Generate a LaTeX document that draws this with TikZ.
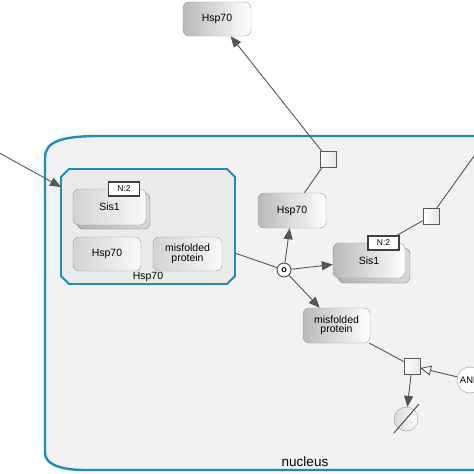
\documentclass[tikz,border=0pt]{standalone}
\usepackage{fontspec}
\setmainfont{Liberation Sans}
\usetikzlibrary{arrows.meta,calc}
\definecolor{compblue}{HTML}{1A8FBF}
\definecolor{compfill}{HTML}{F2F2F2}
\definecolor{cxfill}{HTML}{EBEBEB}
\definecolor{edgegray}{HTML}{555555}
\begin{document}
\begin{tikzpicture}[x=1pt,y=-1pt,
  epn/.style={rounded corners=6pt, draw=gray!80, left color=gray!55, right color=white,
    minimum width=68pt, minimum height=35pt, inner sep=1pt, align=center,
    font=\fontsize{10.5}{11.5}\selectfont},
  epnlight/.style={epn, left color=gray!35, right color=gray!5},
  shadowbox/.style={epn, left color=gray!60, right color=gray!30, draw=gray},
  tagbox/.style={draw=black!75, line width=1.6pt, fill=white, minimum width=31pt,
    minimum height=14pt, inner sep=0pt, font=\fontsize{8.5}{9}\selectfont},
  procsq/.style={draw=black!65, left color=white, right color=gray!20, minimum size=16pt, inner sep=0pt},
  conn/.style={draw=edgegray, line width=0.9pt},
  arr/.style={conn, -{Triangle[length=11pt,width=9pt]}},
  stim/.style={conn, -{Triangle[open,length=11pt,width=10pt,fill=white]}}
]
\useasboundingbox (0,0) rectangle (474,474);
\clip (0,0) rectangle (474,474);
\fill[white] (0,0) rectangle (474,474);

% nucleus compartment
\path[draw=compblue, line width=2.4pt, fill=compfill]
  (520,136) -- (100,136) .. controls (60,136) and (45,142) .. (45,158)
  -- (45,453) .. controls (45,464) and (60,470) .. (85,470) -- (520,470) -- cycle;
\node[font=\fontsize{13.5}{14}\selectfont] (nucl) at (305,462) {nucleus};

% complex
\node[minimum width=174pt, minimum height=115pt, inner sep=0pt] (cx) at (148,226.5) {};
\path[draw=compblue, line width=1.8pt, fill=cxfill]
  (69,169) -- (227,169) -- (235,177) -- (235,276) -- (227,284) -- (69,284) -- (61,276) -- (61,177) -- cycle;
\node[font=\fontsize{10.5}{11}\selectfont] (cxlab) at (148,277) {Hsp70};

\node[shadowbox, minimum width=73pt, minimum height=36pt] (csis1s) at (113.5,211) {};
\node[epnlight, minimum width=73pt, minimum height=36pt] (csis1) at (109.5,207) {Sis1};
\node[tagbox] (ctag) at (124,189) {N:2};
\node[epnlight, minimum width=68pt, minimum height=34pt] (chsp) at (107,254) {Hsp70};
\node[epnlight, minimum width=69pt, minimum height=34pt] (cmf) at (187.5,254) {misfolded\\[-2pt]protein};

% outside / other nodes
\node[epn, minimum height=34pt] (th) at (217,19) {Hsp70};
\node[epn] (hm) at (292,210.5) {Hsp70};
\node[shadowbox, minimum width=72pt] (sis1s) at (374,265.5) {};
\node[epn, minimum width=72pt] (sis1r) at (369,260.5) {Sis1};
\node[tagbox] (tag2) at (383.5,243) {N:2};
\node[epn, minimum width=67pt] (mf) at (336.5,325.5) {misfolded\\[-2pt]protein};

\node[circle, draw=black!70, fill=white, line width=0.9pt, minimum size=14pt, inner sep=0pt,
  font=\fontsize{9}{9}\bfseries] (o) at (284,270) {o};
\node[procsq] (sq1) at (328,159) {};
\node[procsq] (sq2) at (431,216) {};
\node[procsq] (sq3) at (412,366) {};
\node[circle, draw=gray!80, left color=gray!30, right color=white, minimum size=24pt, inner sep=0pt] (es) at (406,419) {};
\draw[black!75, line width=0.9pt] (394,433) -- (419,404);
\node[circle, draw=gray!80, fill=white, minimum size=26pt, inner sep=0pt,
  font=\fontsize{9.5}{9.5}\selectfont] (andn) at (470,380) {AND};

\coordinate (lin) at (-6,150);
\coordinate (cxl) at (61,187);
\coordinate (ext2) at (482,145);

% connectors
\draw[arr] (lin) -- (cxl);
\draw[conn] (cx.-17.5) -- (o);
\draw[arr] (o) -- (hm);
\draw[arr] (o) -- (sis1r);
\draw[arr] (o) -- (mf);
\draw[conn] (hm) -- (sq1);
\draw[arr] (sq1) -- (th);
\draw[conn] (tag2) -- (sq2);
\draw[conn] (sq2) -- (ext2);
\draw[conn] (mf) -- (sq3);
\draw[arr] (sq3) -- (es);
\draw[stim] (andn) -- (sq3);
\end{tikzpicture}
\end{document}
